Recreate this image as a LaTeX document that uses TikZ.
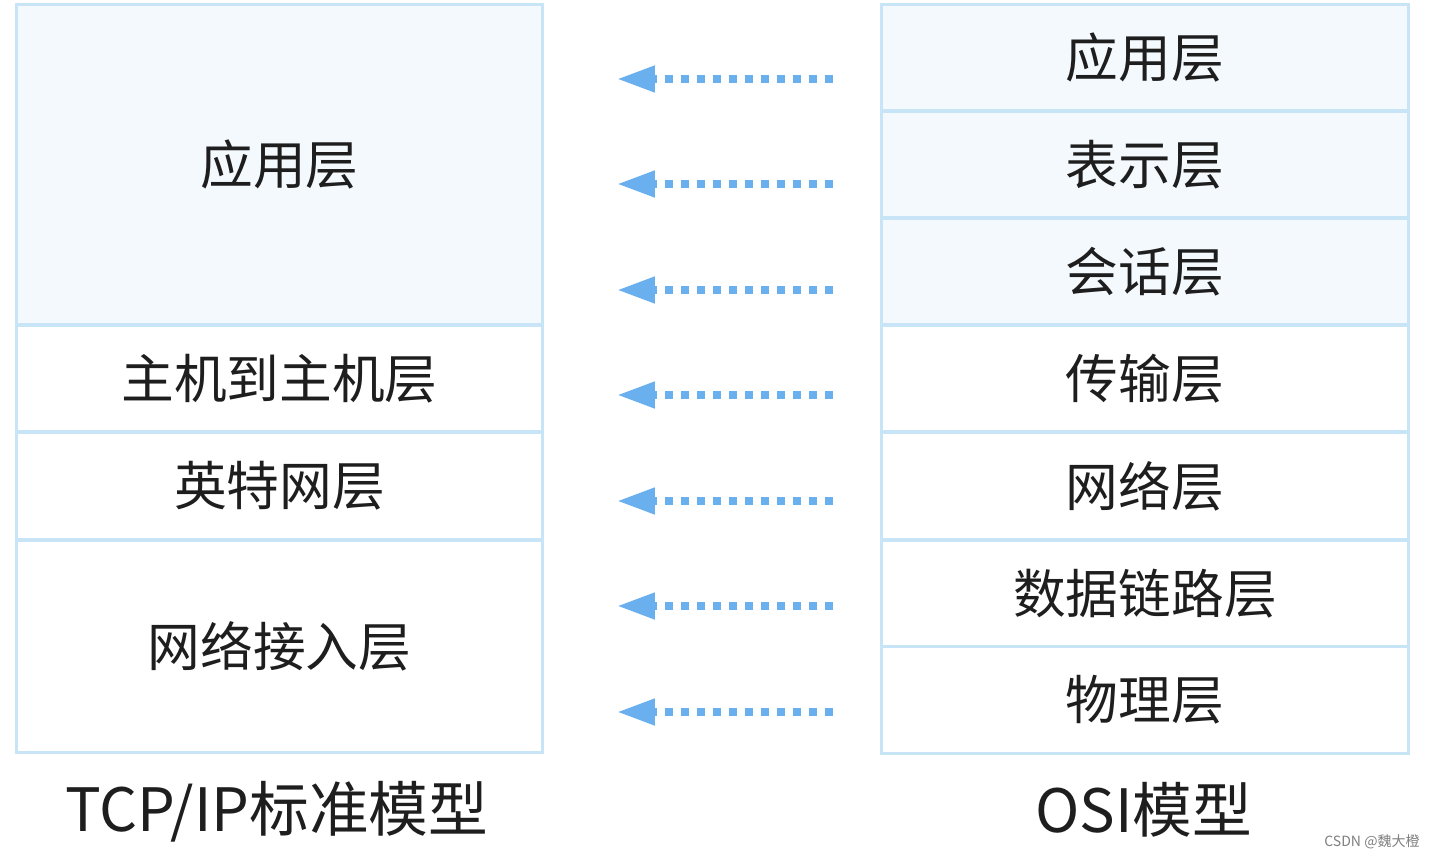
\documentclass[tikz,border=0pt]{standalone}
\usepackage{fontspec}
\setmainfont{Noto Sans CJK SC}
\usetikzlibrary{arrows.meta}
\definecolor{layerline}{HTML}{C8E4F7}
\definecolor{layerfill}{HTML}{F4F9FE}
\definecolor{arrowblue}{HTML}{6AAFEE}
\definecolor{textdark}{HTML}{1E1E1E}
\tikzset{
  layer/.style={draw=layerline, line width=1.7pt, inner sep=0pt,
    text=textdark, font=\fontsize{30}{30}\selectfont},
  leftlayer/.style={layer, minimum width=10.54cm},
  rightlayer/.style={layer, minimum width=10.56cm, minimum height=2.14cm},
  maparrow/.style={arrowblue, line width=4.4pt, line cap=butt,
    dash pattern=on 4.4pt off 4.7pt,
    -{Triangle[length=0.76cm,width=0.5cm]}},
  modellabel/.style={text=textdark, font=\fontsize{34}{34}\selectfont}
}
\begin{document}
\begin{tikzpicture}[x=0.02cm, y=-0.02cm]
  \useasboundingbox[fill=white] (0,0) rectangle (1437,858);

  % TCP/IP model (left column)
  \begin{scope}
    \node[leftlayer, fill=layerfill, minimum height=6.42cm] (tcpapp) at (279.5,164.5) {应用层};
    \node[leftlayer, fill=white, minimum height=2.14cm] (tcphost) at (279.5,378.5) {主机到主机层};
    \node[leftlayer, fill=white, minimum height=2.16cm] (tcpnet) at (279.5,486) {英特网层};
    \node[leftlayer, fill=white, minimum height=4.26cm] (tcplink) at (279.5,646.5) {网络接入层};
    \node[modellabel] (tcpname) at (277,812) {TCP/IP标准模型};
  \end{scope}

  % OSI model (right column)
  \begin{scope}
    \foreach \y/\name/\txt/\col in {57.5/osiapp/应用层/layerfill, 164.5/osipres/表示层/layerfill,
        271.5/osisess/会话层/layerfill, 378.5/ositrans/传输层/white, 486/osinet/网络层/white,
        593.5/osilink/数据链路层/white, 700/osiphys/物理层/white} {
      \node[rightlayer, fill=\col] (\name) at (1145,\y) {\txt};
    }
    \node[modellabel] (osiname) at (1144,810) {OSI模型};
  \end{scope}

  % Mapping arrows
  \foreach \y [count=\i] in {79,184,290,395,501,606,712} {
    \coordinate (from\i) at (833,\y);
    \coordinate (to\i) at (617,\y);
    \draw[maparrow] (from\i) -- (to\i);
  }

  \node[text=gray, font=\fontsize{8}{8}\selectfont] (mark) at (1372,842) {CSDN @魏大橙};
\end{tikzpicture}
\end{document}
